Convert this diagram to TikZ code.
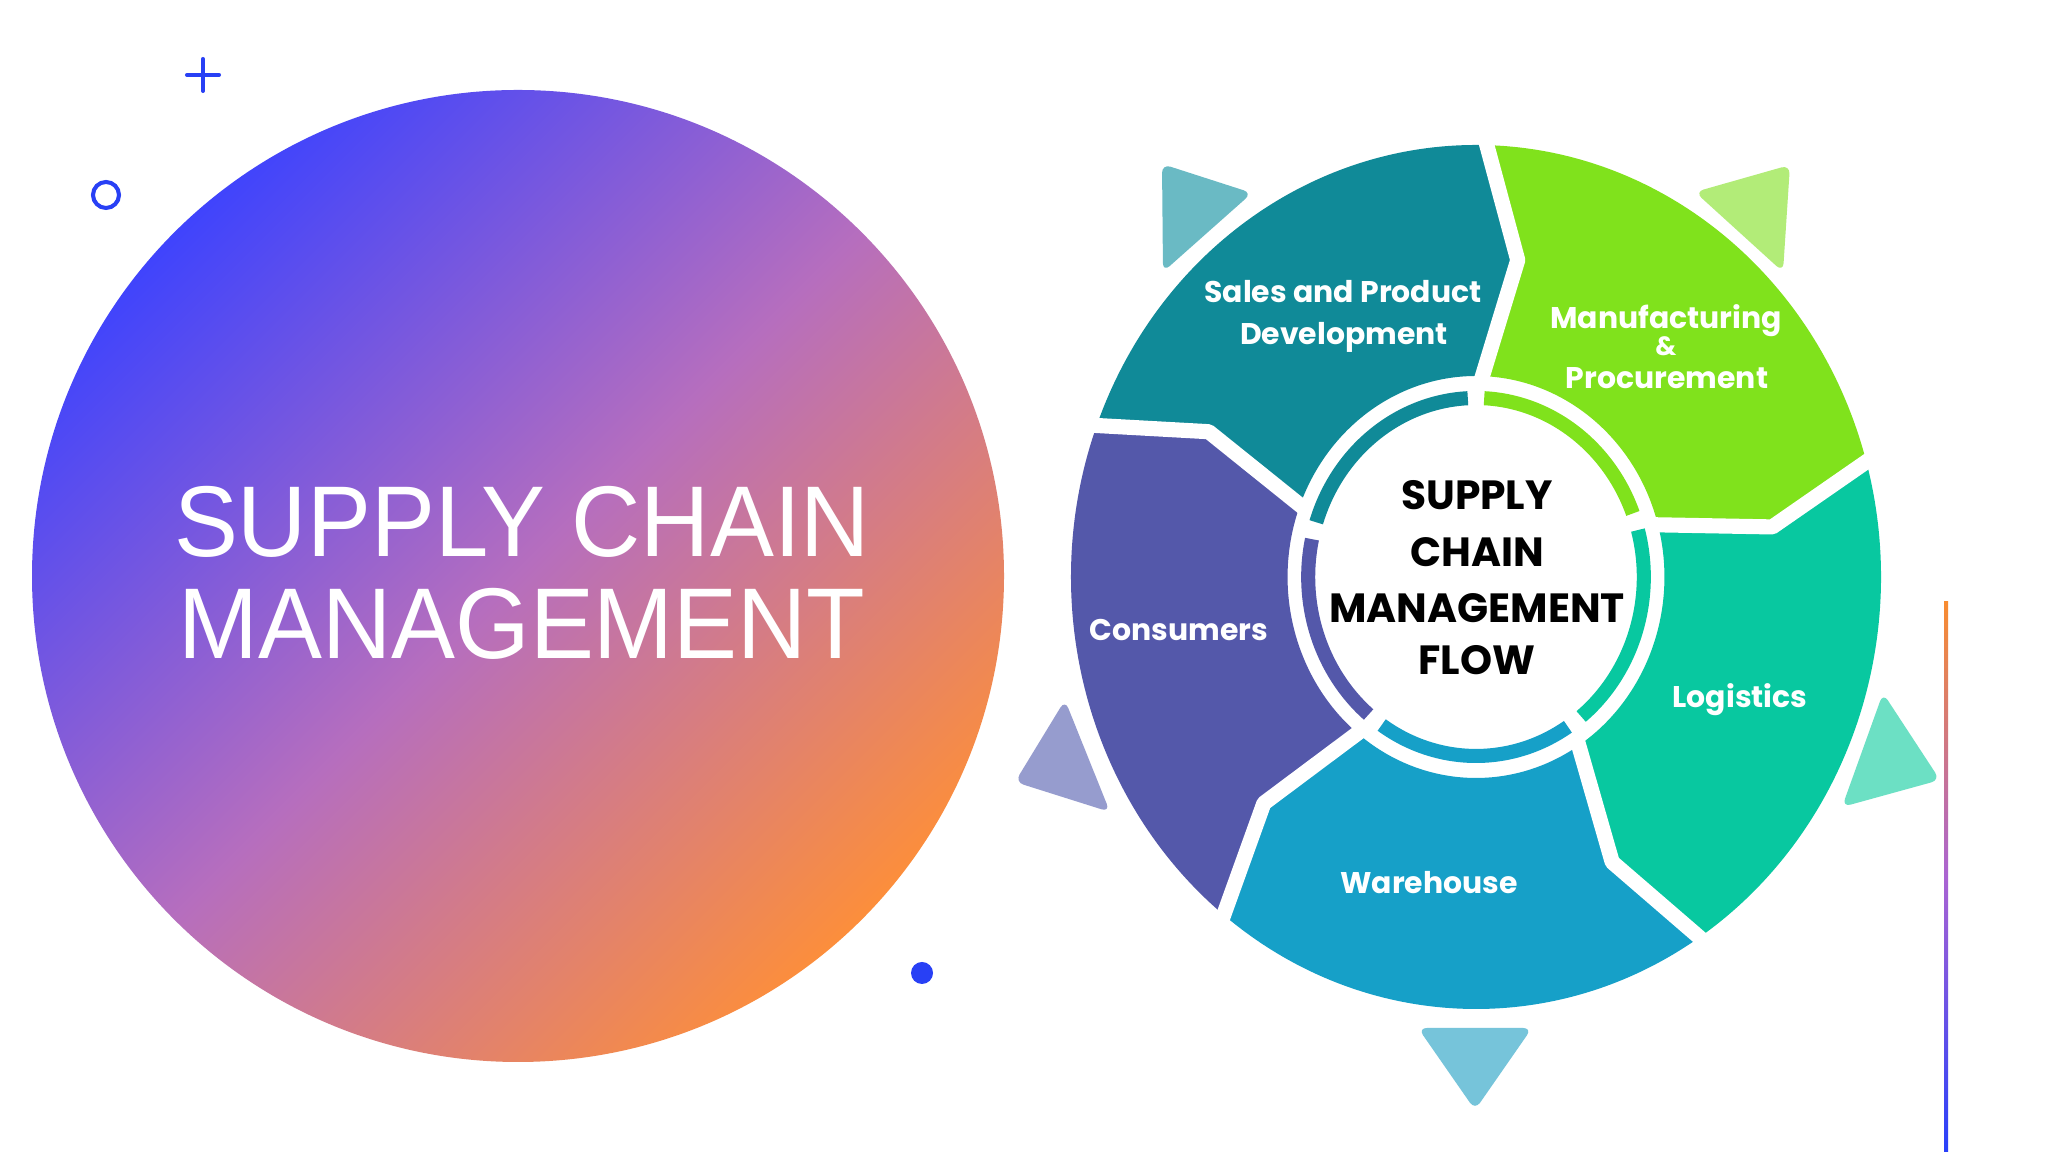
\documentclass[tikz,border=0pt]{standalone}
\usepackage{fontspec}
\setmainfont{Liberation Sans}
\newfontfamily\titlefont[FakeStretch=0.953]{Liberation Sans}
\newfontfamily\wheelfont{Poppins}
\definecolor{gtop}{RGB}{64,68,252}
\definecolor{gmid}{RGB}{182,110,190}
\definecolor{gbot}{RGB}{252,142,60}
\definecolor{vtop}{RGB}{248,140,48}
\definecolor{vmid}{RGB}{170,100,210}
\definecolor{vbot}{RGB}{40,64,250}
\definecolor{decoblue}{RGB}{40,64,245}
\definecolor{csales}{RGB}{16,138,152}
\definecolor{cmanu}{RGB}{128,226,28}
\definecolor{clog}{RGB}{8,200,160}
\definecolor{cware}{RGB}{22,160,200}
\definecolor{ccons}{RGB}{84,88,170}
\definecolor{tsales}{RGB}{106,186,196}
\definecolor{tmanu}{RGB}{178,236,120}
\definecolor{tlog}{RGB}{108,224,196}
\definecolor{tware}{RGB}{118,196,218}
\definecolor{tcons}{RGB}{150,156,206}
\begin{document}
\begin{tikzpicture}[x=0.01cm,y=0.01cm,
  titletext/.style={text=white, inner sep=0pt, anchor=base,
    font=\titlefont\fontsize{28.6pt}{28.6pt}\selectfont},
  deco/.style={draw=decoblue, line width=1.15pt, line cap=round},
  sep/.style={draw=white, line width=4.3pt, line join=round},
  ringarc/.style={line width=4pt},
  tri/.style={rounded corners=2.5pt},
  seglabel/.style={text=white, inner sep=0pt, anchor=base,
    font=\wheelfont\bfseries\fontsize{8.5pt}{8.5pt}\selectfont},
  hub/.style={text=black, inner sep=0pt, anchor=base,
    font=\wheelfont\bfseries\fontsize{11.6pt}{11.6pt}\selectfont}]
\fill[white] (0,0) rectangle (2048,1152);
\useasboundingbox (0,0) rectangle (2048,1152);

% big gradient circle
\shade[top color=gtop, bottom color=gbot, middle color=gmid, shading angle=45]
  (518,576) circle[radius=486];
\node[titletext] (t1) at (522,595) {SUPPLY CHAIN};
\node[titletext] (t2) at (522,493) {MANAGEMENT};

% decorations
\draw[deco] (187,1077) -- (219,1077) (203,1061) -- (203,1093);
\draw[deco] (106,957) circle[radius=13];
\fill[decoblue] (922,179) circle[radius=11];

% vertical gradient line
\shade[top color=vtop, bottom color=vbot, middle color=vmid] (1944,0) rectangle (1948,550);

% wheel
\begin{scope}[shift={(1476,575)}, xscale=0.9375]
  \fill[csales] (160:432) arc[start angle=160, end angle=89, radius=432] -- (82:320) -- (89:201)
     arc[start angle=89, end angle=160, radius=201] -- (153:320) -- cycle;
  \fill[cmanu] (89:432) arc[start angle=89, end angle=16, radius=432] -- (9:320) -- (16:201)
     arc[start angle=16, end angle=89, radius=201] -- (82:320) -- cycle;
  \fill[clog] (16:432) arc[start angle=16, end angle=-56, radius=432] -- (-63:320) -- (-56:201)
     arc[start angle=-56, end angle=16, radius=201] -- (9:320) -- cycle;
  \fill[cware] (-56:432) arc[start angle=-56, end angle=-128, radius=432] -- (-135:320) -- (-128:201)
     arc[start angle=-128, end angle=-56, radius=201] -- (-63:320) -- cycle;
  \fill[ccons] (-128:432) arc[start angle=-128, end angle=-200, radius=432] -- (-207:320) -- (-200:201)
     arc[start angle=-200, end angle=-128, radius=201] -- (-135:320) -- cycle;
  % separators
  \draw[sep] (89:445) -- (82:320) -- (89:190);
  \draw[sep] (16:445) -- (9:320) -- (16:190);
  \draw[sep] (-56:445) -- (-63:320) -- (-56:190);
  \draw[sep] (-128:445) -- (-135:320) -- (-128:190);
  \draw[sep] (160:445) -- (153:320) -- (160:190);
  % inner ring
  \draw[ringarc, csales] (92.8:179) arc[start angle=92.8, end angle=162.2, radius=179];
  \draw[ringarc, cmanu] (20.8:179) arc[start angle=20.8, end angle=87.2, radius=179];
  \draw[ringarc, clog] (-51.2:179) arc[start angle=-51.2, end angle=15.2, radius=179];
  \draw[ringarc, cware] (-124.2:179) arc[start angle=-124.2, end angle=-56.8, radius=179];
  \draw[ringarc, ccons] (167.8:179) arc[start angle=167.8, end angle=230.2, radius=179];
\end{scope}

% triangles
\fill[tsales, tri] (1162,988) -- (1252,959) -- (1163,880) -- cycle;
\fill[tmanu, tri] (1695,960) -- (1790,987) -- (1783,880) -- cycle;
\fill[tlog, tri] (1883,459) -- (1940,372) -- (1842,345) -- cycle;
\fill[tware, tri] (1418,124) -- (1532,124) -- (1475,42) -- cycle;
\fill[tcons, tri] (1065,452) -- (1015,370) -- (1110,340) -- cycle;

% hub text
\node[hub] (h1) at (1477,642) {SUPPLY};
\node[hub] (h2) at (1477,585) {CHAIN};
\node[hub] (h3) at (1477,529) {MANAGEMENT};
\node[hub] (h4) at (1477,477) {FLOW};

% segment labels
\node[seglabel] (s1) at (1343,849) {Sales and Product};
\node[seglabel] (s2) at (1344,807) {Development};
\node[seglabel] (m1) at (1666,823) {Manufacturing};
\node[seglabel, font=\wheelfont\bfseries\fontsize{7.5pt}{7.5pt}\selectfont] (m2) at (1666,796) {\&};
\node[seglabel] (m3) at (1667,763) {Procurement};
\node[seglabel] (c1) at (1179,511) {Consumers};
\node[seglabel] (l1) at (1740,444) {Logistics};
\node[seglabel] (w1) at (1429,258) {Warehouse};
\end{tikzpicture}
\end{document}
